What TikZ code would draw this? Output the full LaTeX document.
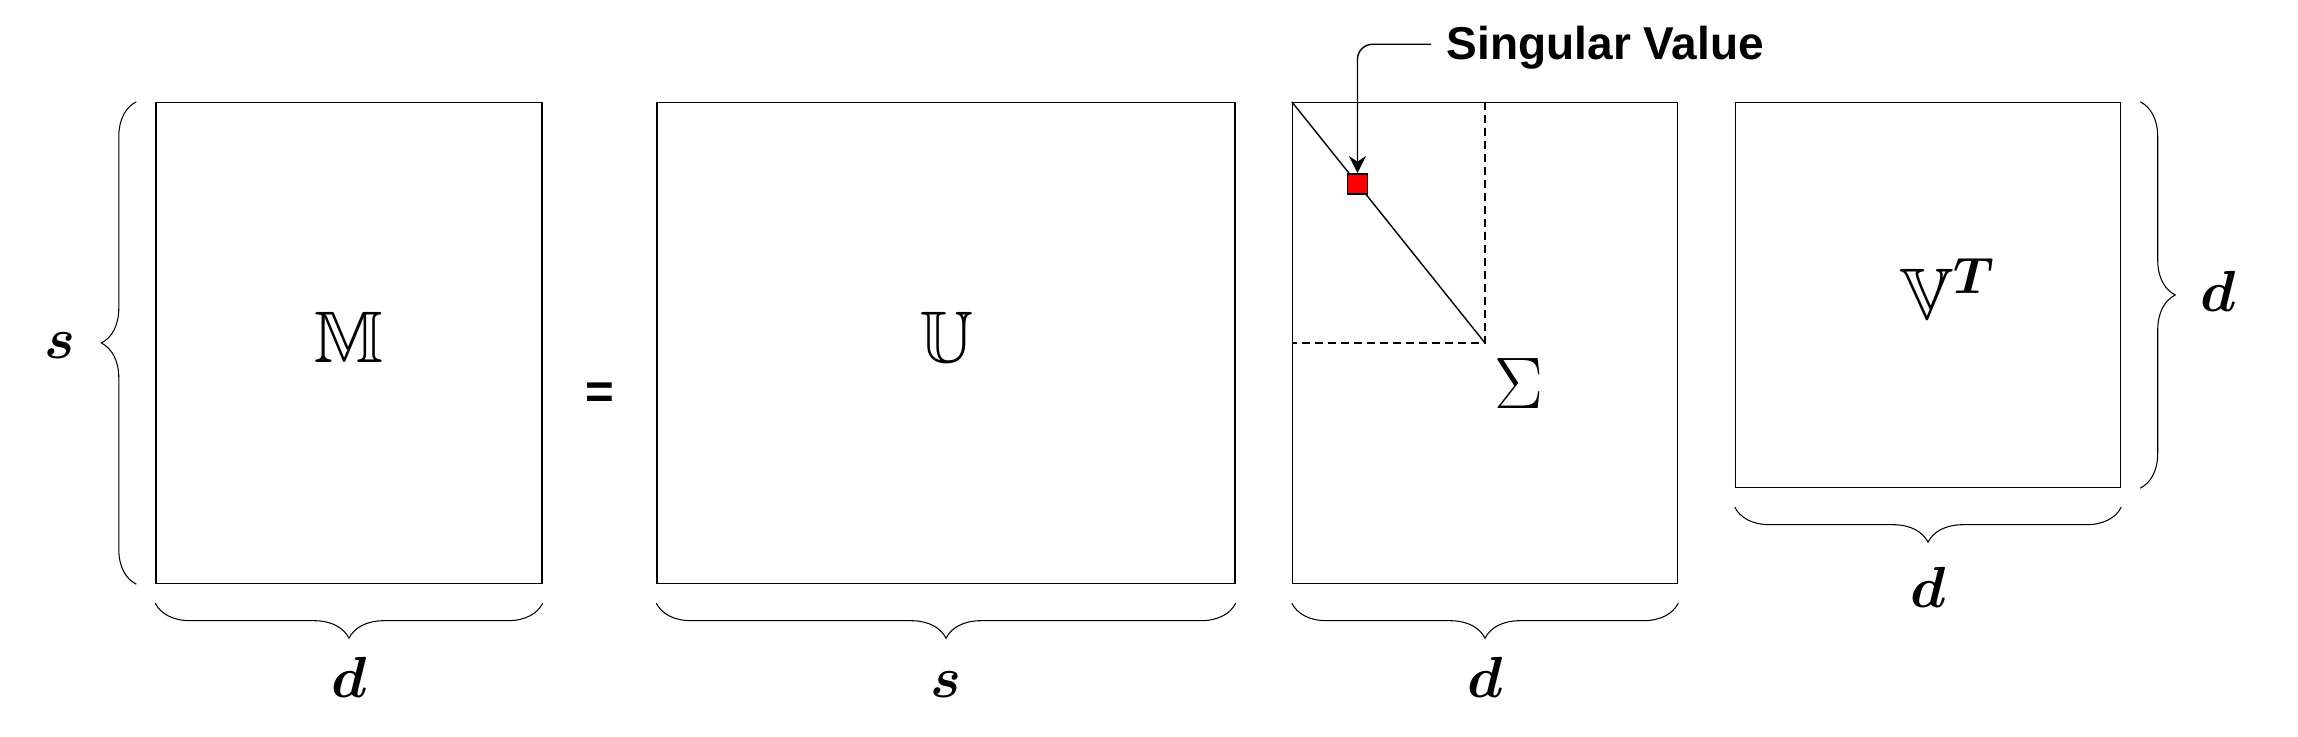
\RequirePackage{fix-cm}
\documentclass[tikz,border=0pt]{standalone}
\usepackage{amssymb}
\usepackage{bm}
\usepackage{fontspec}
\newfontfamily\calloutfont{Liberation Sans}
\usetikzlibrary{decorations.pathreplacing, arrows.meta}

\begin{document}
\begin{tikzpicture}[
		mat/.style = {
			draw,
			rectangle,
			inner sep = 0,
			minimum width = 3.85cm,
			minimum height = 4.81cm
		},
		big/.style = {
			anchor = base,
			inner sep = 0,
			font = \fontsize{20.8}{25}\selectfont
		},
		dim/.style = {
			anchor = base,
			inner sep = 0,
			font = \fontsize{16.5}{20}\selectfont
		},
		brc/.style = {
			decorate,
			line width = 0.3pt,
			decoration = {brace, amplitude = 0.35cm, raise = 0.19cm}
		},
		sq/.style = {
			draw,
			rectangle,
			fill = red,
			inner sep = 0,
			minimum width = 0.2cm,
			minimum height = 0.2cm
		},
		dsh/.style = {
			line width = 0.6pt,
			dash pattern = on 0.08cm off 0.05cm
		},
		callout/.style = {
			anchor = west,
			inner sep = 0.15cm,
			text height = 0.3cm,
			text depth = 0pt,
			font = \calloutfont\bfseries\fontsize{13.1}{15}\selectfont
		}
	]
	\useasboundingbox (0, 0) rectangle (22.98, 7.36);

	\node [mat, minimum width = 3.86cm] (M) at (+3.49, +3.93) {};
	\node [mat, minimum width = 5.78cm] (U) at (+9.46, +3.93) {};
	\node [mat] (S) at (+14.85, +3.93) {};
	\node [mat, minimum height = 3.85cm] (V) at (+19.28, +4.41) {};

	\node [big] (Mlab) at (+3.49, +3.73) {$\mathbb{M}$};
	\node [big] (Ulab) at (+9.47, +3.73) {$\mathbb{U}$};
	\node [big] (Slab) at (+15.19, +3.27) {$\Sigma$};
	\node [big] (Vlab) at (+19.48, +4.16) {$\mathbb{V}^{\bm{T}}$};

	\node [callout, font = \calloutfont\bfseries\fontsize{14}{16}\selectfont, anchor = center] (eq) at (+6.00, +3.42) {=};

	% diagonal and the dashed corner of Sigma
	\draw [dsh] (S.north) -- (S.center) -- (S.west);
	\draw (S.north west) -- node [sq, pos = 0.34] (sv) {} (S.center);

	\node [callout] (svlab) at (+14.31, +6.917) {Singular Value};
	\draw [-{Stealth[length = 0.17cm, width = 0.17cm]}, rounded corners = 0.15cm] (svlab.west) -| (sv.north);

	% braces
	\draw [brc] (M.south west) -- (M.north west);
	\draw [brc] (M.south east) -- (M.south west);
	\draw [brc] (U.south east) -- (U.south west);
	\draw [brc] (S.south east) -- (S.south west);
	\draw [brc] (V.south east) -- (V.south west);
	\draw [brc] (V.north east) -- (V.south east);

	\node [dim] (sL) at (+0.60, +3.777) {$\bm{s}$};
	\node [dim] (dM) at (+3.49, +0.39) {$\bm{d}$};
	\node [dim] (sU) at (+9.46, +0.39) {$\bm{s}$};
	\node [dim] (dS) at (+14.85, +0.39) {$\bm{d}$};
	\node [dim] (dV) at (+19.28, +1.285) {$\bm{d}$};
	\node [dim] (dR) at (+22.18, +4.245) {$\bm{d}$};
\end{tikzpicture}
\end{document}
